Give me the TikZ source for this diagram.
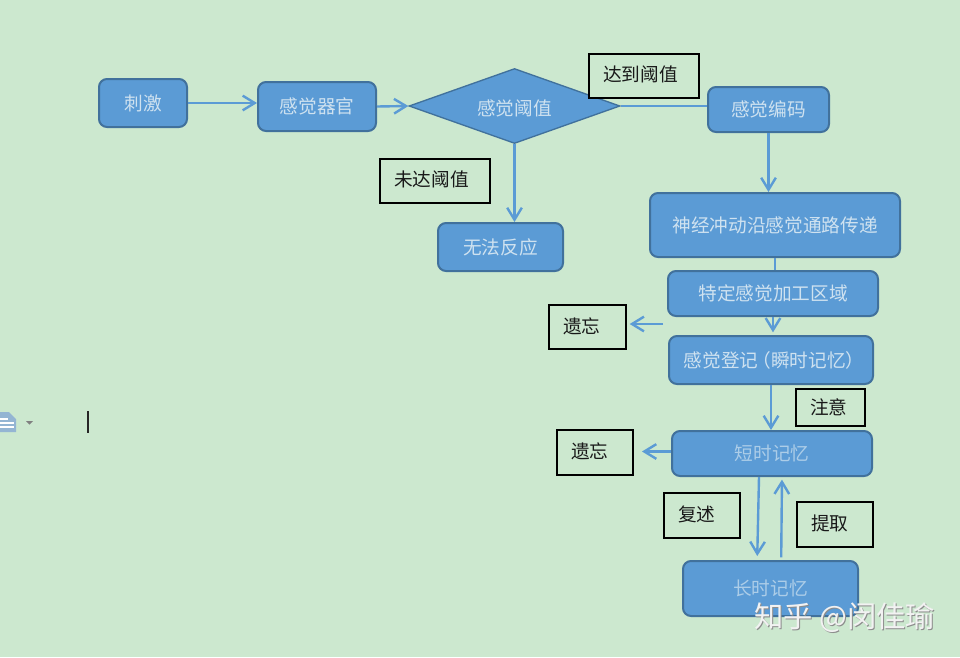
\documentclass[tikz,border=0pt]{standalone}
\usepackage{fontspec}
\setmainfont{Noto Sans CJK SC}
\usetikzlibrary{arrows.meta,shapes.geometric}

\definecolor{bggreen}{HTML}{CCE8CF}
\definecolor{boxblue}{HTML}{5B9BD5}
\definecolor{boxline}{HTML}{41719C}
\definecolor{boxtext}{HTML}{CFE2F0}

\tikzset{every picture/.style={line width=0.75pt}}
\tikzset{
  boxsize/.style 2 args={minimum width=#1*0.75pt,minimum height=#2*0.75pt},
  procbox/.style={draw=boxline,line width=1.5pt,fill=boxblue,text=boxtext,rounded corners=6pt,inner sep=0pt,font=\fontsize{14}{16}\selectfont},
  gatebox/.style={draw=boxline,line width=1pt,fill=boxblue,text=boxtext,diamond,aspect=2.8,inner sep=0pt,text height=14pt,text depth=0pt,font=\fontsize{14}{16}\selectfont},
  tagbox/.style 2 args={draw=black,line width=1.5pt,fill=bggreen,text=black!90,boxsize={#1}{#2},text width=#1*0.75pt-21pt,inner xsep=10.5pt,inner ysep=0pt,text height=12pt,text depth=3.5pt,align=left,font=\fontsize{14}{16}\selectfont},
  flow/.style={draw=boxblue,line width=1.8pt,-{Straight Barb[length=9pt,width=11pt,line width=1.8pt]}},
  flowline/.style={draw=boxblue,line width=1.8pt},
  markfont/.style={font=\fontsize{22}{26}\selectfont,inner sep=0pt}
}

\begin{document}
\begin{tikzpicture}[x=0.75pt,y=0.75pt,yscale=-1]
% Background
\fill [bggreen] (0,0) rectangle (960,657);
\useasboundingbox (0,0) rectangle (960,657);

% Editor leftovers
\fill [black!15!boxblue!60!white] (0,412) -- (9,412) -- (16,419) -- (16,432) -- (0,432) -- cycle;
\draw [white,line width=0.9pt] (0,419) -- (8,419) (0,423) -- (14,423) (0,427) -- (14,427);
\fill [gray] (26,421) -- (33,421) -- (29.5,424.5) -- cycle;
\draw [black!85,line width=1.5pt] (88,411) -- (88,433);

% Process Nodes
\node (stim) [procbox,boxsize={88}{48}] at (143,103) {刺激};
\node (organ) [procbox,boxsize={118}{49}] at (317,106.5) {感觉器官};
\node (gate) [gatebox,boxsize={211}{75}] at (514.5,106) {感觉阈值};
\node (noresp) [procbox,boxsize={125}{48}] at (500.5,247) {无法反应};
\node (encode) [procbox,boxsize={121}{45}] at (768.5,109.5) {感觉编码};
\node (nerve) [procbox,boxsize={250}{64}] at (775,225) {神经冲动沿感觉通路传递};
\node (area) [procbox,boxsize={210}{45}] at (773,293.5) {特定感觉加工区域};
\node (sensory) [procbox,boxsize={204}{48}] at (771,360) {感觉登记\kern-4.5pt（瞬时记忆）\kern-4.5pt};
\node (short) [procbox,boxsize={200}{45},text=boxtext!70!boxblue] at (772,453.5) {短时记忆};
\node (long) [procbox,boxsize={175}{55},text=boxtext!70!boxblue] at (770.5,588.5) {长时记忆};

% Text Node
\node (reach) [tagbox={110}{44}] at (644,76) {达到阈值};
\node (miss) [tagbox={110}{44}] at (435,181) {未达阈值};
\node (forgeta) [tagbox={77}{44},text depth=2.5pt] at (587.5,327) {遗忘};
\node (forgetb) [tagbox={76}{45}] at (595,452.5) {遗忘};
\node (attend) [tagbox={69}{37},text depth=1pt] at (830.5,407) {注意};
\node (rehearse) [tagbox={76}{45}] at (702,515.5) {复述};
\node (retrieve) [tagbox={76}{45}] at (835,524.5) {提取};

\coordinate (areaout) at (663,324);

% Straight Lines
\draw [flow] (stim.east) -- (stim.east -| organ.west);
\draw [flow] (organ.east) -- (gate.west);
\draw [flowline] (gate.east) -- (gate.east -| encode.west);
\draw [flow] (gate.south) -- (gate.south |- noresp.north);
\draw [flow] (encode.south) -- (encode.south |- nerve.north);
\draw [flowline] (nerve.south) -- (nerve.south |- area.north);
\draw [flow,shorten >=2pt] (area.south) -- (area.south |- sensory.north);
\draw [flow,shorten >=2pt] (areaout) -- (areaout -| forgeta.east);
\draw [flow] (sensory.south) -- (sensory.south |- short.north);
\draw [flow,shorten >=6pt] ([yshift=-1.5pt]short.west) -- ([yshift=-1.5pt]short.west -| forgetb.east);
\draw [flow,shorten >=3pt] ([xshift=-9.75pt]short.south) -- ([xshift=-10pt]long.north);
\draw [flow,shorten <=2pt,shorten >=2pt] ([xshift=8pt]long.north) -- ([xshift=7.5pt]short.south);

% Watermark
\node (markshadow) [markfont,text=black!45] at (845.5,618.5) {知乎 @闵佳瑜};
\node (mark) [markfont,text=white!95!black] at (844.5,617.5) {知乎 @闵佳瑜};

\end{tikzpicture}
\end{document}
